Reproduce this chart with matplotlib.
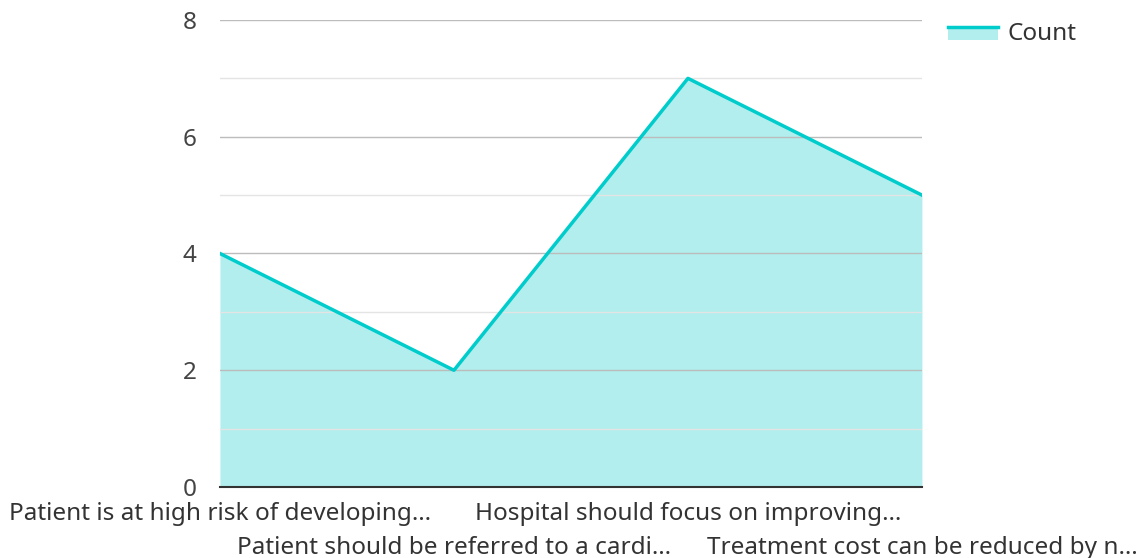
import matplotlib.pyplot as plt
from matplotlib.legend_handler import HandlerBase
from matplotlib.patches import Rectangle
from matplotlib.lines import Line2D

plt.rcParams['font.family'] = ['Noto Sans', 'DejaVu Sans']

categories = [
    "Patient is at high risk of developing…",
    "Patient should be referred to a cardi…",
    "Hospital should focus on improving…",
    "Treatment cost can be reduced by n…",
]
counts = [4, 2, 7, 5]

LINE_COLOR = "#00cccc"
FILL_COLOR = "#b2eeee"
FS = 17.5


class AreaHandler(HandlerBase):
    # filled box with the line along its top edge
    def create_artists(self, legend, orig_handle, xdescent, ydescent,
                       width, height, fontsize, trans):
        rect = Rectangle((-xdescent, -ydescent), width, height * 0.8,
                         facecolor=FILL_COLOR, edgecolor='none', transform=trans)
        top = -ydescent + height * 0.8
        line = Line2D([-xdescent, -xdescent + width], [top, top],
                      color=LINE_COLOR, linewidth=2.5, transform=trans)
        return [rect, line]


fig = plt.figure(figsize=(11.45, 5.58), dpi=100)
ax = fig.add_axes([0.1921, 0.1272, 0.6131, 0.837])

x = list(range(len(categories)))
ax.fill_between(x, counts, 0, color=FILL_COLOR, linewidth=0, zorder=1)
ax.plot(x, counts, color=LINE_COLOR, linewidth=2.5, zorder=3)

ax.set_xlim(0, len(categories) - 1)
ax.set_ylim(0, 8)
ax.set_yticks([0, 2, 4, 6, 8])
ax.set_yticks([1, 3, 5, 7], minor=True)
ax.grid(axis='y', which='major', color='#bcbcbc', linewidth=1, zorder=2)
ax.grid(axis='y', which='minor', color='#e4e4e4', linewidth=1, zorder=2)
ax.set_axisbelow(False)

for s in ['top', 'right', 'left']:
    ax.spines[s].set_visible(False)
ax.spines['bottom'].set_color('#333333')
ax.spines['bottom'].set_linewidth(1.5)
ax.spines['bottom'].set_zorder(4)

ax.set_xticks(x)
ax.set_xticklabels(categories, fontsize=FS, color='#333333')
ax.tick_params(axis='x', length=0, pad=11)
# stagger the long labels on two rows
for i, t in enumerate(ax.xaxis.get_major_ticks()):
    if i % 2 == 1:
        t.set_pad(35)
ax.tick_params(axis='y', which='both', length=0, pad=17, labelsize=FS,
               labelcolor='#444444')

ax.legend([Line2D([], [])], ["Count"], handler_map={Line2D: AreaHandler()},
          loc='upper left', bbox_to_anchor=(0.8215, 0.973),
          bbox_transform=fig.transFigure, frameon=False, fontsize=FS,
          handlelength=2.05, handletextpad=0.4, labelcolor='#333333',
          borderaxespad=0, borderpad=0.3)

fig.savefig("out.png", dpi=100)
